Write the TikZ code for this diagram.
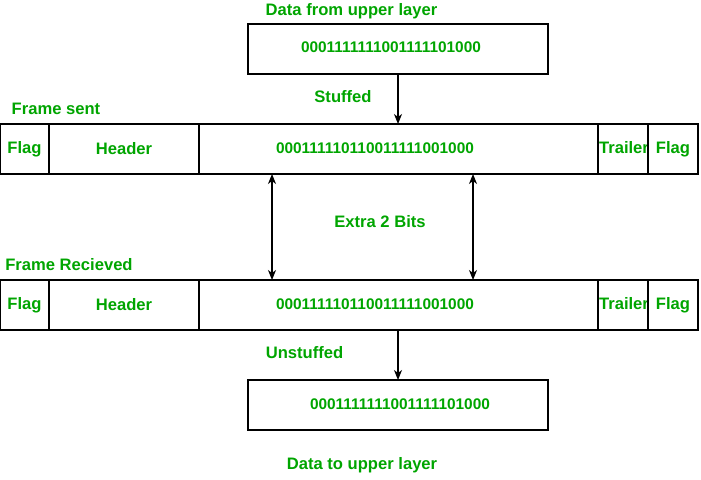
\documentclass[tikz,border=0pt]{standalone}
\usepackage{fontspec}
\setmainfont{Liberation Sans}
\usetikzlibrary{arrows.meta}
\definecolor{txtgreen}{RGB}{0,165,0}
\tikzset{
  lbl/.style={text=txtgreen, font=\bfseries\fontsize{16.6}{18}\selectfont, inner sep=0pt},
  bits/.style={text=txtgreen, font=\bfseries\fontsize{15.4}{17}\selectfont, inner sep=0pt},
  cell/.style={draw=black, line width=1.2pt, minimum height=50pt, inner sep=0pt, outer sep=0pt},
  databox/.style={draw=black, line width=1.2pt, minimum width=300pt, minimum height=50pt, inner sep=0pt, outer sep=0pt},
  tip/.tip={Stealth[length=10pt,width=8pt,inset=3pt]},
  arr/.style={line width=1.2pt, -tip},
  darr/.style={line width=1.2pt, tip-tip}
}
\begin{document}
\begin{tikzpicture}[x=1pt,y=-1pt]
\useasboundingbox (0,0) rectangle (701,479);
% top data box
\node[lbl] (dfu) at (351.5,11) {Data from upper layer};
\node[databox] (top) at (398,49) {};
\node[bits] at (391,47) {0001111111001111101000};
% frame sent
\node[lbl] (fs) at (56,109) {Frame sent};
\node[cell, minimum width=49pt] (s1) at (24.5,149) {};
\node[lbl] at (s1) {Flag};
\node[cell, minimum width=150pt] (s2) at (124,149) {};
\node[lbl] at (s2) {Header};
\node[cell, minimum width=399pt] (s3) at (398.5,149) {};
\node[bits] at (375,148) {000111110110011111001000};
\node[cell, minimum width=50pt] (s4) at (623,149) {};
\node[lbl] at (624,148) {Trailer};
\node[cell, minimum width=50pt] (s5) at (673,149) {};
\node[lbl] at (s5) {Flag};
\node[lbl] (stf) at (343,97) {Stuffed};
\draw[arr] (top.south) -- (top.south |- s3.north);
% extra bits
\coordinate (e1) at (272,0);
\coordinate (e2) at (473,0);
\node[lbl] (ex) at (380,222) {Extra 2 Bits};
% frame received
\node[lbl] (fr) at (69,265) {Frame Recieved};
\node[cell, minimum width=49pt] (r1) at (24.5,305) {};
\node[lbl] at (r1) {Flag};
\node[cell, minimum width=150pt] (r2) at (124,305) {};
\node[lbl] at (r2) {Header};
\node[cell, minimum width=399pt] (r3) at (398.5,305) {};
\node[bits] at (375,304) {000111110110011111001000};
\node[cell, minimum width=50pt] (r4) at (623,305) {};
\node[lbl] at (624,304) {Trailer};
\node[cell, minimum width=50pt] (r5) at (673,305) {};
\node[lbl] at (r5) {Flag};
\draw[darr] (s3.south -| e1) -- (r3.north -| e1);
\draw[darr] (s3.south -| e2) -- (r3.north -| e2);
% bottom
\node[lbl] (ust) at (304.5,353) {Unstuffed};
\node[databox] (bot) at (398,405) {};
\node[bits] at (400,404) {0001111111001111101000};
\draw[arr] (r3.south -| bot.north) -- (bot.north);
\node[lbl] (dtu) at (362,465) {Data to upper layer};
\end{tikzpicture}
\end{document}
